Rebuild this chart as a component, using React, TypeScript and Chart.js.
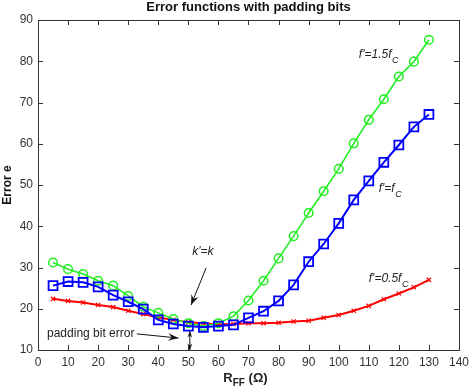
import React, { useEffect, useRef } from "react";
import { Chart, registerables } from "chart.js";

Chart.register(...registerables);

// R_FF values (Ω)
const rValues = [5, 10, 15, 20, 25, 30, 35, 40, 45, 50, 55, 60, 65, 70, 75, 80, 85, 90, 95, 100, 105, 110, 115, 120, 125, 130];
// f' = 1.5 fC
const errHigh = [31.2, 29.6, 28.4, 26.8, 25.6, 23.1, 20.5, 19.0, 17.5, 16.5, 15.8, 16.5, 18.2, 22.0, 26.8, 32.2, 37.6, 43.2, 48.5, 53.9, 60.1, 65.8, 70.8, 76.3, 79.9, 85.2];
// f' = fC
const errMid = [25.6, 26.6, 26.4, 25.3, 23.3, 21.7, 19.9, 17.3, 16.3, 15.8, 15.5, 15.8, 16.1, 17.8, 19.4, 21.9, 25.8, 31.4, 35.7, 40.7, 46.4, 51.0, 55.5, 59.7, 64.1, 67.1];
// f' = 0.5 fC
const errLow = [22.4, 21.9, 21.5, 20.9, 20.4, 19.5, 18.7, 17.9, 17.3, 16.7, 16.5, 16.2, 16.3, 16.5, 16.5, 16.6, 16.9, 17.1, 17.8, 18.5, 19.5, 20.7, 22.3, 23.7, 25.2, 27.0];

const titleText = "Error functions with padding bits";
const yTitle = "Error e";

const FONT = "'Liberation Sans', Arial, sans-serif";

const toPts = (ys: number[]) => rValues.map((x, i) => ({ x, y: ys[i] }));

function arrow(ctx: CanvasRenderingContext2D, x1: number, y1: number, x2: number, y2: number, head = 9, both = false) {
  ctx.beginPath();
  ctx.moveTo(x1, y1);
  ctx.lineTo(x2, y2);
  ctx.stroke();
  const drawHead = (fx: number, fy: number, tx: number, ty: number) => {
    const ang = Math.atan2(ty - fy, tx - fx);
    const w = 0.35;
    ctx.beginPath();
    ctx.moveTo(tx, ty);
    ctx.lineTo(tx - head * Math.cos(ang - w), ty - head * Math.sin(ang - w));
    ctx.lineTo(tx - head * 0.6 * Math.cos(ang), ty - head * 0.6 * Math.sin(ang));
    ctx.lineTo(tx - head * Math.cos(ang + w), ty - head * Math.sin(ang + w));
    ctx.closePath();
    ctx.fill();
  };
  drawHead(x1, y1, x2, y2);
  if (both) drawHead(x2, y2, x1, y1);
}

function subText(ctx: CanvasRenderingContext2D, x: number, y: number, main: string, sub: string, style: string, size: number) {
  ctx.font = `${style} ${size}px ${FONT}`;
  ctx.textAlign = "left";
  ctx.textBaseline = "alphabetic";
  ctx.fillText(main, x, y);
  const w = ctx.measureText(main).width;
  ctx.font = `${style} ${Math.round(size * 0.75)}px ${FONT}`;
  ctx.fillText(sub, x + w + 0.5, y + 5);
}

const decor = {
  id: "decor",
  afterDatasetsDraw(chart: any) {
    const { ctx, chartArea: a, scales } = chart;
    const xs = scales.x;
    const ys = scales.y;
    ctx.save();
    ctx.strokeStyle = "#333";
    ctx.lineWidth = 1;
    ctx.strokeRect(Math.round(a.left) + 0.5, Math.round(a.top) + 0.5, Math.round(a.right - a.left), Math.round(a.bottom - a.top));
    const tl = 5;
    ctx.beginPath();
    xs.ticks.forEach((t: any) => {
      const px = Math.round(xs.getPixelForValue(t.value)) + 0.5;
      ctx.moveTo(px, a.bottom);
      ctx.lineTo(px, a.bottom - tl);
      ctx.moveTo(px, a.top);
      ctx.lineTo(px, a.top + tl);
    });
    ys.ticks.forEach((t: any) => {
      const py = Math.round(ys.getPixelForValue(t.value)) + 0.5;
      ctx.moveTo(a.left, py);
      ctx.lineTo(a.left + tl, py);
      ctx.moveTo(a.right, py);
      ctx.lineTo(a.right - tl, py);
    });
    ctx.stroke();

    const X = (v: number) => xs.getPixelForValue(v);
    const Y = (v: number) => ys.getPixelForValue(v);

    // curve labels
    ctx.fillStyle = "#222";
    subText(ctx, X(106.7), Y(80.8), "f'=1.5f", "C", "italic", 12);
    subText(ctx, X(113.3), Y(48.4), "f'=f", "C", "italic", 12);
    subText(ctx, X(110.0), Y(26.6), "f'=0.5f", "C", "italic", 12);

    // k'=k
    ctx.font = `italic 12px ${FONT}`;
    ctx.textAlign = "left";
    ctx.textBaseline = "middle";
    ctx.fillText("k'=k", X(51.3), Y(33.8));

    ctx.strokeStyle = "#111";
    ctx.fillStyle = "#111";
    ctx.lineWidth = 1;
    arrow(ctx, X(55.9), Y(29.9), X(50.9), Y(20.9), 11);

    // padding bit error
    ctx.fillStyle = "#222";
    ctx.font = `12px ${FONT}`;
    ctx.textBaseline = "middle";
    ctx.fillText("padding bit error", X(3.0), Y(13.9));
    ctx.fillStyle = "#111";
    arrow(ctx, X(32.9), Y(13.9), X(46.7), Y(12.9), 11);
    arrow(ctx, X(50.5), Y(14.6), X(50.5), Y(10), 7, true);

    // x axis title with subscript
    const cx = (a.left + a.right) / 2 - 3;
    ctx.fillStyle = "#222";
    ctx.font = `bold 13px ${FONT}`;
    const wR = ctx.measureText("R").width;
    const wP = ctx.measureText(" (Ω)").width;
    ctx.font = `bold 10px ${FONT}`;
    const wS = ctx.measureText("FF").width;
    let x0 = cx - (wR + wS + wP) / 2;
    const base = 382;
    ctx.textAlign = "left";
    ctx.textBaseline = "alphabetic";
    ctx.font = `bold 13px ${FONT}`;
    ctx.fillText("R", x0, base);
    x0 += wR;
    ctx.font = `bold 10px ${FONT}`;
    ctx.fillText("FF", x0, base + 4);
    x0 += wS;
    ctx.font = `bold 13px ${FONT}`;
    ctx.fillText(" (Ω)", x0, base);
    ctx.restore();
  },
};

export default function App() {
  const ref = useRef<HTMLCanvasElement>(null);
  useEffect(() => {
    document.body.style.margin = "0";
    const canvas = ref.current!;
    const chart = new Chart(canvas, {
      type: "line",
      data: {
        datasets: [
          {
            label: "f'=fC",
            data: toPts(errMid),
            borderColor: "#0000ff",
            borderWidth: 2,
            pointStyle: "rect",
            pointRadius: 6.3,
            pointBorderWidth: 1.8,
            pointBorderColor: "#0000ff",
            pointBackgroundColor: "rgba(0,0,0,0)",
            tension: 0,
          },
          {
            label: "f'=1.5fC",
            data: toPts(errHigh),
            borderColor: "#22ee22",
            borderWidth: 1.6,
            pointStyle: "circle",
            pointRadius: 4.3,
            pointBorderWidth: 1.5,
            pointBorderColor: "#22ee22",
            pointBackgroundColor: "rgba(0,0,0,0)",
            tension: 0,
          },
          {
            label: "f'=0.5fC",
            data: toPts(errLow),
            borderColor: "#ff0000",
            borderWidth: 2,
            pointStyle: "crossRot",
            pointRadius: 3,
            pointBorderWidth: 1.2,
            pointBorderColor: "#ff0000",
            tension: 0,
          },
        ],
      },
      options: {
        responsive: false,
        animation: false,
        layout: { padding: { left: 0, right: 10, top: 0, bottom: 0 } },
        plugins: {
          legend: { display: false },
          tooltip: { enabled: false },
          title: {
            display: true,
            fullSize: false,
            text: titleText,
            color: "#111",
            font: { family: FONT, size: 13, weight: "bold" },
            padding: { top: 0, bottom: 4.4 },
          },
        },
        scales: {
          x: {
            type: "linear",
            min: 0,
            max: 140,
            grid: { display: false, drawTicks: false },
            border: { display: false },
            ticks: { stepSize: 10, color: "#333", font: { family: FONT, size: 12 }, padding: 5, maxRotation: 0, autoSkip: false },
            afterFit: (s: any) => {
              s.height = 38;
            },
          },
          y: {
            type: "linear",
            min: 10,
            max: 90,
            grid: { display: false, drawTicks: false },
            border: { display: false },
            ticks: { stepSize: 10, color: "#333", font: { family: FONT, size: 12 }, padding: 5 },
            title: { display: true, text: yTitle, color: "#111", font: { family: FONT, size: 12, weight: "bold" }, padding: 0 },
            afterFit: (s: any) => {
              s.width = 38;
            },
          },
        },
      },
      plugins: [decor],
    } as any);
    return () => chart.destroy();
  }, []);
  return <canvas ref={ref} width={474} height={388} style={{ display: "block", width: 474, height: 388 }} />;
}
